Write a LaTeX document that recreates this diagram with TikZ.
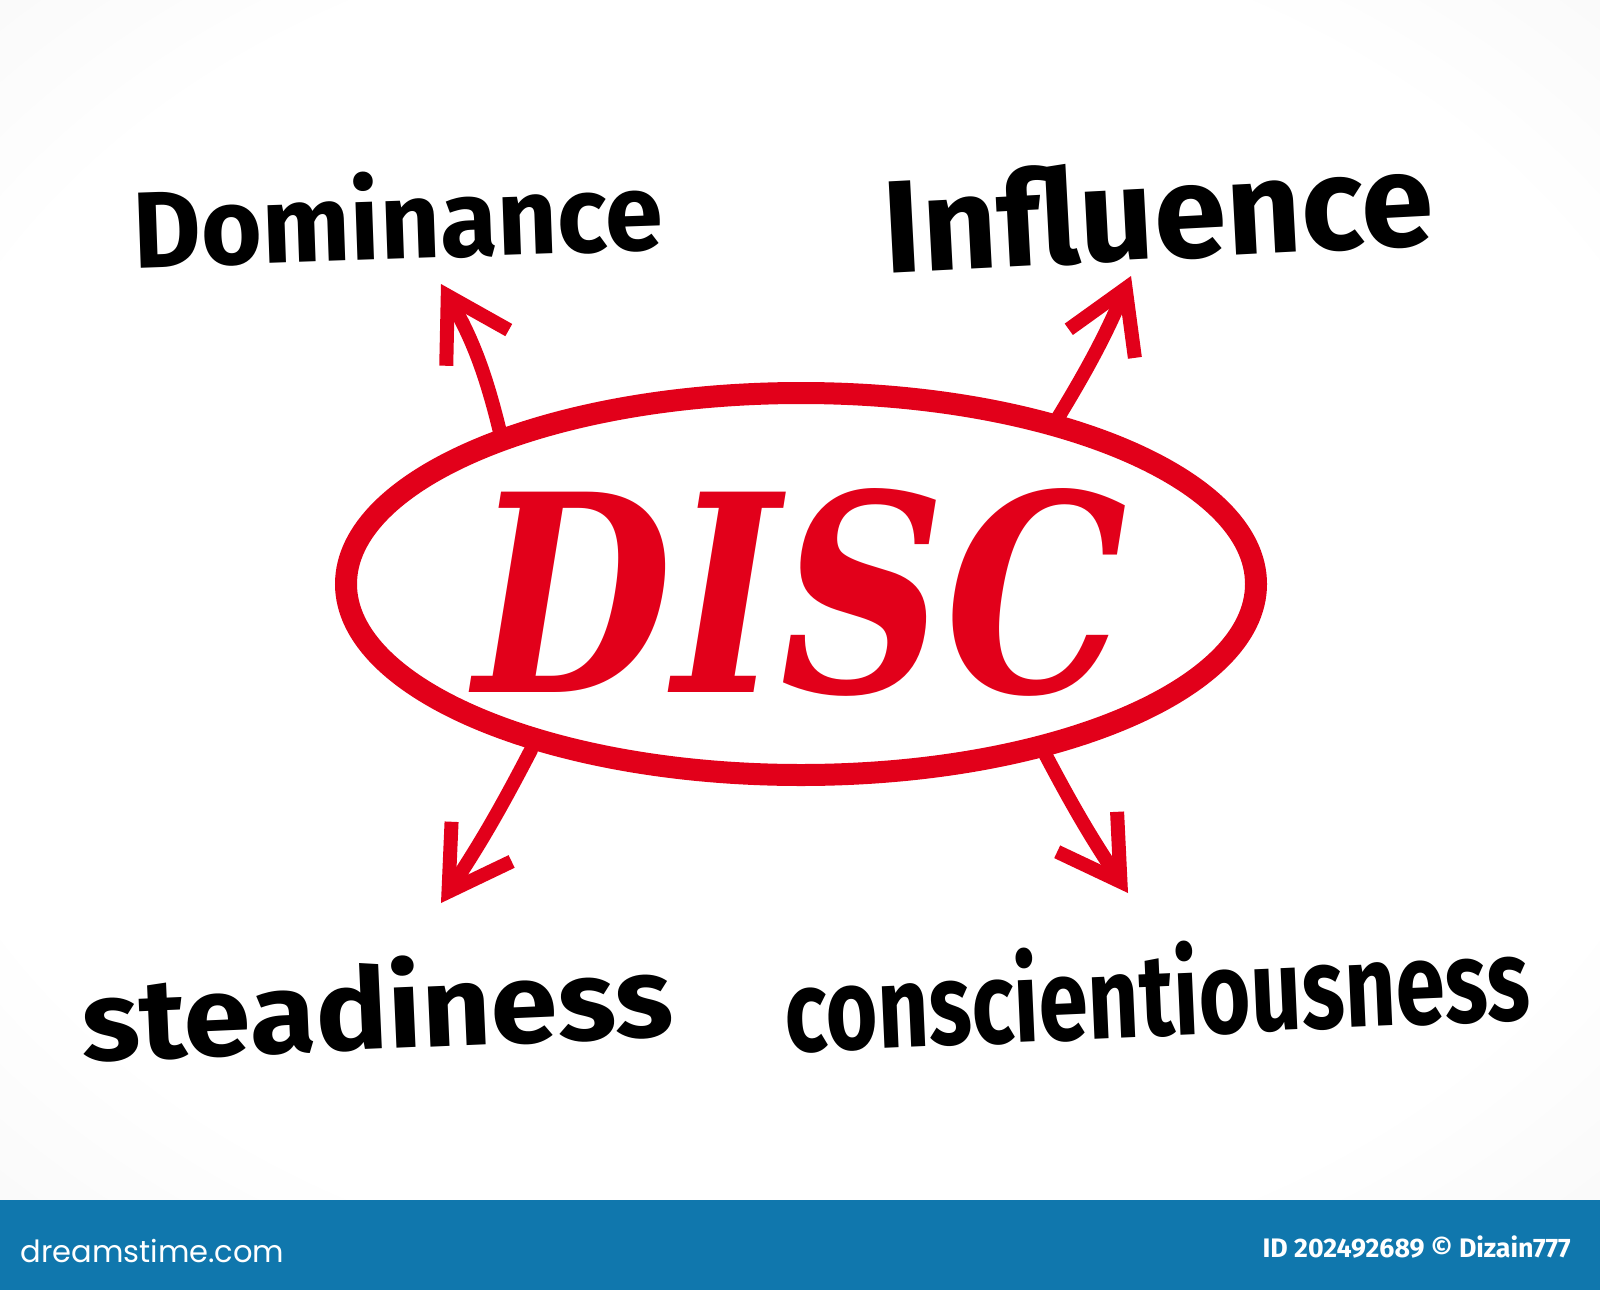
\documentclass[tikz,border=0pt]{standalone}
\usepackage{fontspec}
\setmainfont{Fira Sans}
\newfontfamily\discfont{DejaVu Serif}
\newfontfamily\logofont{Poppins}
\usetikzlibrary{arrows.meta}
\definecolor{discred}{RGB}{226,0,26}
\definecolor{barblue}{RGB}{16,119,173}
\pgfdeclareradialshading{bgshade}{\pgfpoint{0bp}{0bp}}{%
  color(0bp)=(white); color(28bp)=(white); color(50bp)=(black!6); color(100bp)=(black!6)}
\begin{document}
\begin{tikzpicture}[x=0.5pt,y=-0.5pt,
  lbl/.style={inner sep=0pt, text=black, font=\bfseries},
  arr/.style={draw=discred, line width=7pt, line cap=round, line join=round,
    -{Straight Barb[length=30pt,width=36pt,line width=7pt]}}]
\useasboundingbox (0,0) rectangle (1600,1290);
\shade[shading=bgshade] (0,0) rectangle (1600,1200);
\fill[barblue] (0,1200) rectangle (1600,1290);

% labels
\node[lbl, rotate=2] (dom) at (398,216) {\resizebox{265pt}{44pt}{Dominance}};
\node[lbl, rotate=3] (inf) at (1158,210) {\resizebox{275pt}{50pt}{Influence}};
\node[lbl, rotate=2.5] (ste) at (377,1004) {\resizebox{296pt}{46pt}{steadiness}};
\node[lbl, rotate=2.5] (con) at (1157,990) {\resizebox{373pt}{47pt}{conscientiousness}};

% ellipse
\draw[discred, line width=11pt] (801,584) ellipse [x radius=455, y radius=191];
\node[inner sep=0pt, text=discred] (disc) at (801,592)
  {\resizebox{326pt}{102pt}{\discfont\bfseries\itshape DISC}};

% arrow ends
\coordinate (s1) at (500,432);  \coordinate (t1) at (441,284);
\coordinate (s2) at (1056,421); \coordinate (t2) at (1131,276);
\coordinate (s3) at (531,750);  \coordinate (t3) at (441,903);
\coordinate (s4) at (1043,750); \coordinate (t4) at (1128,893);
\draw[arr] (s1) to[bend right=8] (t1);
\draw[arr] (s2) to[bend right=4] (t2);
\draw[arr] (s3) to[bend left=3] (t3);
\draw[arr] (s4) to[bend right=3] (t4);

% footer
\node[anchor=west, inner sep=0pt, text=white] (logo) at (20,1251)
  {\resizebox{132pt}{!}{\logofont dreamstime.com}};
\node[anchor=east, inner sep=0pt, text=white] (idt) at (1571,1247)
  {\resizebox{154pt}{!}{\bfseries ID 202492689 © Dizain777}};
\end{tikzpicture}
\end{document}
